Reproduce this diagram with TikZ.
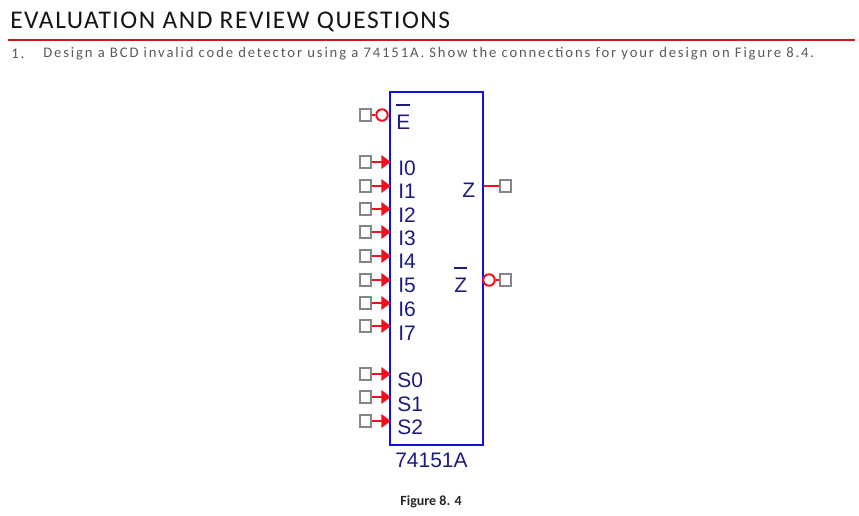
\documentclass[tikz,border=0pt]{standalone}
\usepackage{fontspec}
\setmainfont{Liberation Sans}
\newfontfamily\headfont[LetterSpace=6]{Carlito}
\newfontfamily\bodyfont[LetterSpace=12.7]{Carlito}
\newfontfamily\capfont{Carlito}
\usetikzlibrary{arrows.meta,positioning}
\definecolor{chipblue}{HTML}{1010D8}
\definecolor{labelnavy}{HTML}{1C1C80}
\definecolor{wirered}{HTML}{F01020}
\definecolor{rulered}{HTML}{D01820}
\definecolor{pingray}{HTML}{858585}
\newcommand{\barlabel}[1]{\vbox{\hrule height 1.6pt\kern 6.6pt\hbox{#1}}}

\begin{document}
\begin{tikzpicture}[x=0.75pt,y=-0.75pt,
    pin/.style={draw=pingray,line width=1.6pt,fill=white,minimum size=8.6pt,inner sep=0pt},
    bubble/.style={circle,draw=wirered,line width=1.5pt,fill=white,minimum size=8.6pt,inner sep=0pt},
    wire/.style={draw=wirered,line width=1.4pt},
    inwire/.style={wire,-{Triangle[length=7pt,width=10pt]},shorten >=-1.4pt},
    lbl/.style={text=labelnavy,font=\fontsize{15.75}{16}\selectfont,inner sep=0pt}]
      \useasboundingbox (0,0) rectangle (859,515);

      \node[inner sep=0pt,anchor=west,font=\headfont\fontsize{19.1}{21}\selectfont,text=black!92] (title) at (10,22) {EVALUATION AND REVIEW QUESTIONS};
      \coordinate (ruleL) at (8,40);
      \coordinate (ruleR) at (855,40);
      \draw[draw=rulered,line width=1.8pt] (ruleL) -- (ruleR);
      \node[inner sep=0pt,anchor=west,font=\bodyfont\fontsize{11}{13}\selectfont,text=black!65] (num) at (11,53.5) {1.};
      \node[inner sep=0pt,anchor=west,font=\bodyfont\fontsize{11}{13}\selectfont,text=black!65] (question) at (43,53.5) {Design a BCD invalid code detector using a 74151A. Show the connections for your design on Figure 8.4.};

      \node[draw=chipblue,line width=1.6pt,minimum width=69.75pt,minimum height=264.75pt,inner sep=0pt] (chip) at (436.5,268.5) {};

      \node[pin] (pE) at (365.5,115) {};
      \node[pin] (pI0) at (365.5,162) {};
      \node[pin] (pI1) at (365.5,186) {};
      \node[pin] (pI2) at (365.5,209) {};
      \node[pin] (pI3) at (365.5,232) {};
      \node[pin] (pI4) at (365.5,256) {};
      \node[pin] (pI5) at (365.5,280) {};
      \node[pin] (pI6) at (365.5,303) {};
      \node[pin] (pI7) at (365.5,326) {};
      \node[pin] (pS0) at (365.5,374) {};
      \node[pin] (pS1) at (365.5,397) {};
      \node[pin] (pS2) at (365.5,421) {};
      \node[pin] (pZ) at (505.5,186) {};
      \node[pin] (pZn) at (505.5,280) {};

      \node[bubble] (bE) at (382,115) {};
      \node[bubble] (bZn) at (489,280) {};

      \node[lbl,anchor=south west] (lE) at (396,129.5) {\barlabel{E}};
      \node[lbl,anchor=west] (lI0) at (398,168) {I0};
      \node[lbl,anchor=west] (lI1) at (398,191) {I1};
      \node[lbl,anchor=west] (lI2) at (398,215) {I2};
      \node[lbl,anchor=west] (lI3) at (398,238) {I3};
      \node[lbl,anchor=west] (lI4) at (398,261) {I4};
      \node[lbl,anchor=west] (lI5) at (398,285) {I5};
      \node[lbl,anchor=west] (lI6) at (398,309) {I6};
      \node[lbl,anchor=west] (lI7) at (398,333) {I7};
      \node[lbl,anchor=west] (lS0) at (397,380) {S0};
      \node[lbl,anchor=west] (lS1) at (397,404) {S1};
      \node[lbl,anchor=west] (lS2) at (397,427) {S2};
      \node[lbl,anchor=west] (lZ) at (462,190) {Z};
      \node[lbl,anchor=south west] (lZn) at (454,293) {\barlabel{Z}};
      \node[lbl,anchor=west] (lpart) at (395,460) {74151A};
      \node[inner sep=0pt,font=\capfont\bfseries\fontsize{10.5}{12}\selectfont,text=black!85] (caption) at (431,502) {Figure 8. 4};

      \path[wire]
      (pE) edge (bE)
      (chip.east |- pZ) edge (pZ)
      (chip.east |- bZn) edge (bZn)
      (bZn) edge (pZn);

      \draw[inwire] (pI0) -- (chip.west |- pI0);
      \draw[inwire] (pI1) -- (chip.west |- pI1);
      \draw[inwire] (pI2) -- (chip.west |- pI2);
      \draw[inwire] (pI3) -- (chip.west |- pI3);
      \draw[inwire] (pI4) -- (chip.west |- pI4);
      \draw[inwire] (pI5) -- (chip.west |- pI5);
      \draw[inwire] (pI6) -- (chip.west |- pI6);
      \draw[inwire] (pI7) -- (chip.west |- pI7);
      \draw[inwire] (pS0) -- (chip.west |- pS0);
      \draw[inwire] (pS1) -- (chip.west |- pS1);
      \draw[inwire] (pS2) -- (chip.west |- pS2);

    \end{tikzpicture}
\end{document}
